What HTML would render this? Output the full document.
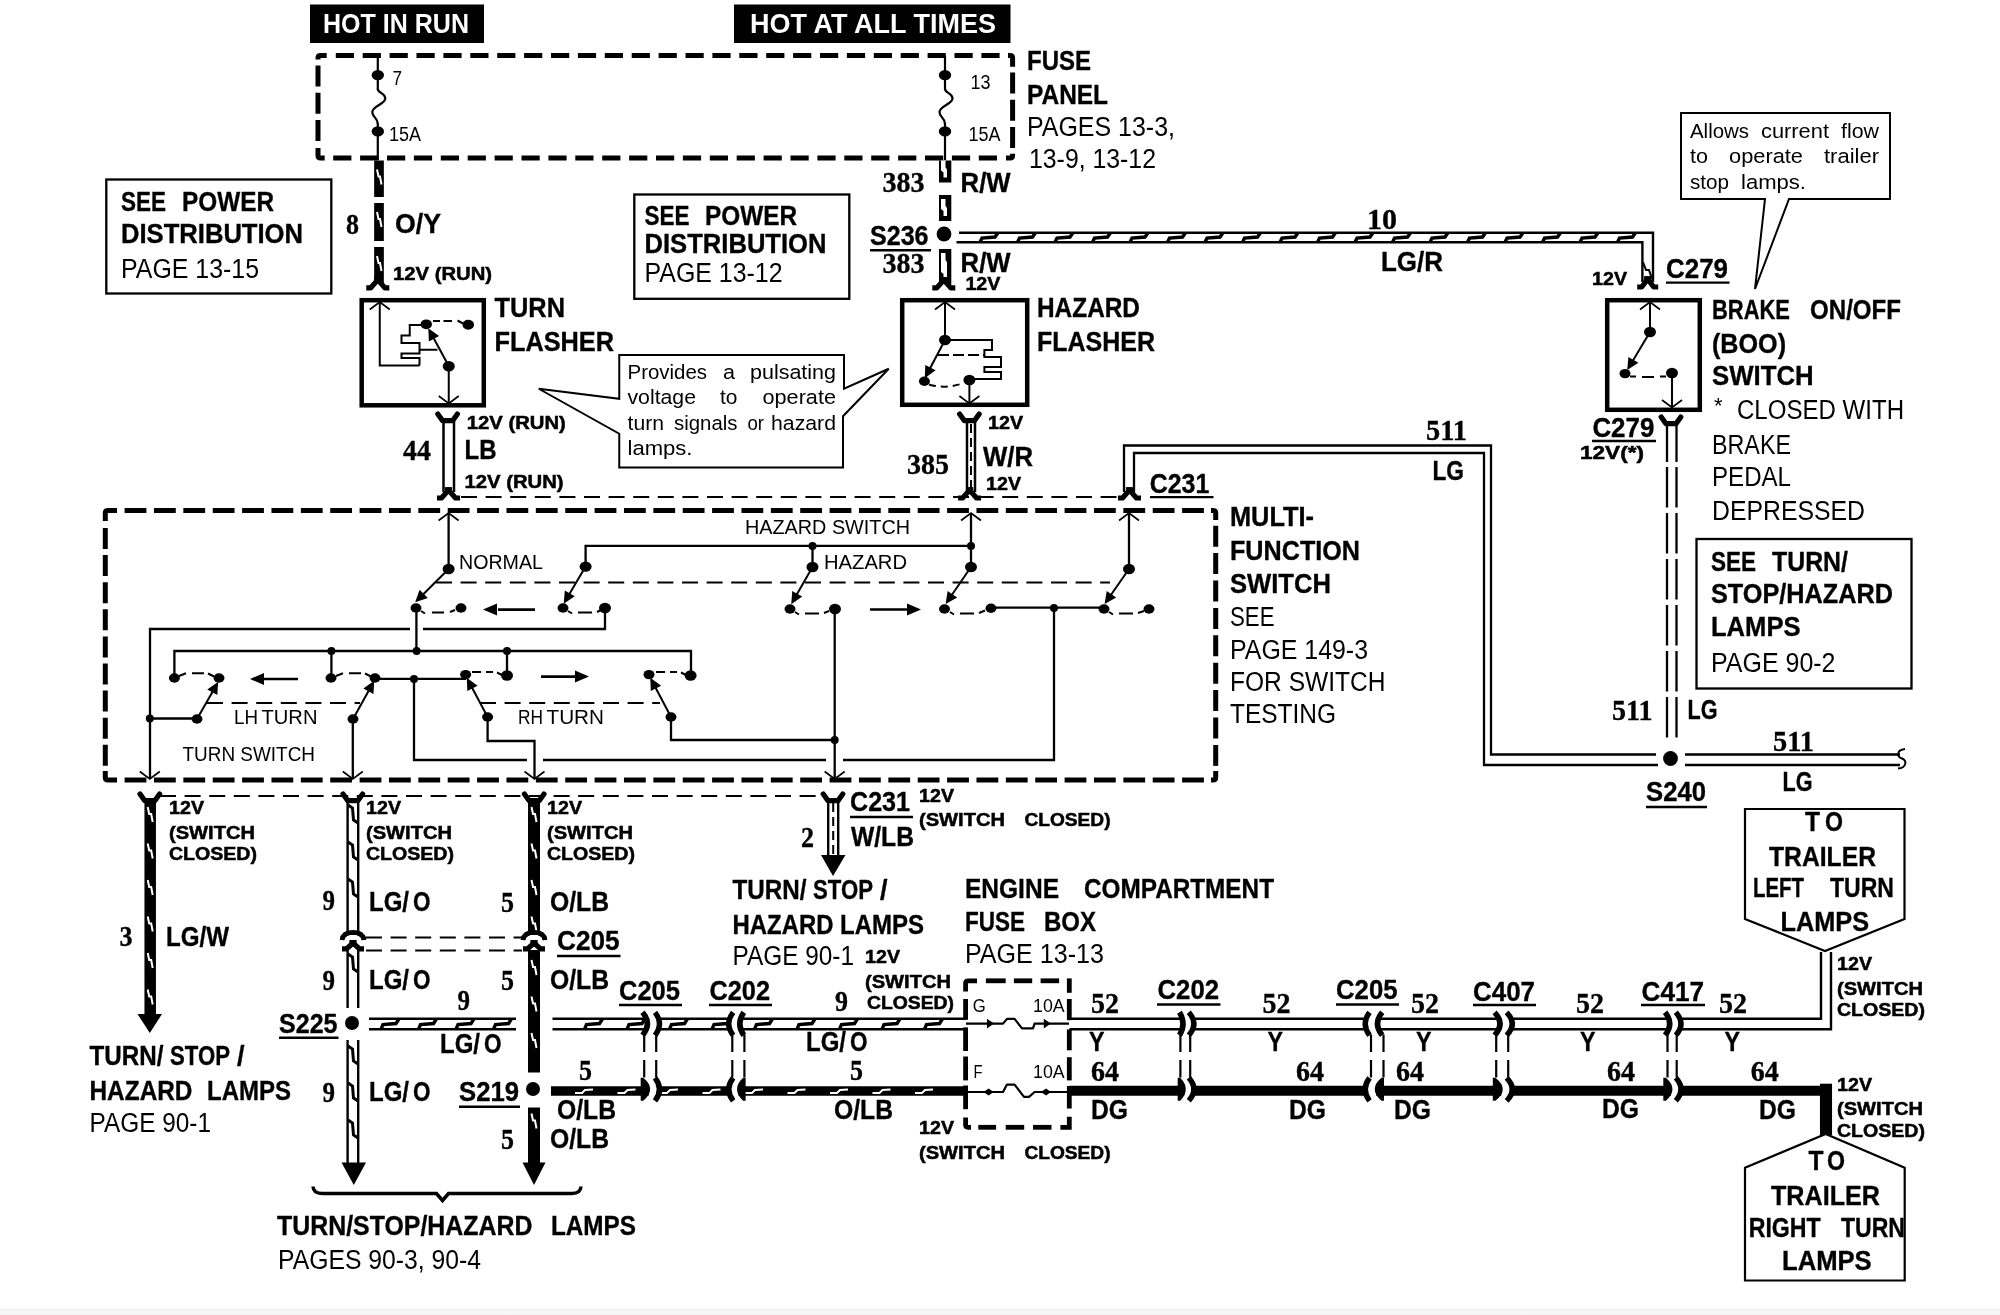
<!DOCTYPE html>
<html><head><meta charset="utf-8"><title>Turn / Stop / Hazard Lamps wiring diagram</title>
<style>
html,body{margin:0;padding:0;background:#fff;}
svg{display:block;}
text{font-family:'Liberation Sans', sans-serif;fill:#000;stroke:none;}
text.sf{font-family:'Liberation Serif', serif;}
</style></head><body>
<svg width="2000" height="1315" viewBox="0 0 2000 1315" stroke="#000" fill="none">
<rect x="0" y="0" width="2000" height="1315" fill="#fff" stroke="none"/>
<defs><linearGradient id="bg" x1="0" y1="0" x2="0" y2="1"><stop offset="0" stop-color="#fff"/><stop offset="0.3" stop-color="#f0f0f0"/><stop offset="0.7" stop-color="#f9f9f9"/><stop offset="1" stop-color="#f1f1f1"/></linearGradient></defs>
<rect x="0" y="1307.5" width="2000" height="7.5" fill="url(#bg)" stroke="none"/>
<filter id="soft" x="0" y="0" width="2000" height="1315" filterUnits="userSpaceOnUse"><feGaussianBlur stdDeviation="0.55"/></filter>
<g filter="url(#soft)">

<rect x="310" y="4.5" width="174" height="38.5" fill="#000" stroke="none"/>
<text x="323" y="33" font-size="27" font-weight="bold" textLength="146" lengthAdjust="spacingAndGlyphs" style="fill:#fff;">HOT IN RUN</text>
<rect x="734" y="4.5" width="276.5" height="38.5" fill="#000" stroke="none"/>
<text x="750" y="33" font-size="27" font-weight="bold" textLength="246" lengthAdjust="spacingAndGlyphs" style="fill:#fff;">HOT AT ALL TIMES</text>
<path d="M318,59.5 V58 Q318,55.6 320.5,55.6 H326.7" stroke-width="5" fill="none"/>
<line x1="335.8" y1="55.6" x2="1002" y2="55.6" stroke-width="5" stroke-dasharray="18.2 8.7"/>
<path d="M1008,55.6 H1010 Q1012.6,55.6 1012.6,58 V66.7" stroke-width="5" fill="none"/>
<line x1="318" y1="65.4" x2="318" y2="142" stroke-width="5" stroke-dasharray="21 6.3"/>
<line x1="1012.6" y1="72.5" x2="1012.6" y2="149" stroke-width="5" stroke-dasharray="21 6.3"/>
<path d="M318,148 V155.6 Q318,158.1 320.5,158.1 H324.7" stroke-width="5" fill="none"/>
<line x1="333.2" y1="158.1" x2="1002" y2="158.1" stroke-width="5" stroke-dasharray="18.2 8.7"/>
<path d="M1006,158.1 H1010 Q1012.6,158.1 1012.6,155.6 V153.8" stroke-width="5" fill="none"/>
<line x1="377.8" y1="56" x2="377.8" y2="90" stroke-width="2.2"/>
<line x1="377.8" y1="123" x2="377.8" y2="160" stroke-width="2.2"/>
<path d="M377.8,89 C377.8,93 385.3,93 385.3,98.5 C385.3,104 372.3,106 372.3,112 C372.3,118 377.8,117 377.8,124" stroke-width="2.2" fill="none"/>
<ellipse cx="377.8" cy="75.1" rx="6.2" ry="5.2" fill="#000" stroke="none"/>
<ellipse cx="377.8" cy="131.4" rx="6.2" ry="5.2" fill="#000" stroke="none"/>
<text x="392.5" y="84.9" font-size="20" textLength="9.5" lengthAdjust="spacingAndGlyphs">7</text>
<text x="389" y="140.8" font-size="20" textLength="32" lengthAdjust="spacingAndGlyphs">15A</text>
<line x1="945" y1="56" x2="945" y2="90" stroke-width="2.2"/>
<line x1="945" y1="123" x2="945" y2="160" stroke-width="2.2"/>
<path d="M945,89 C945,93 952.5,93 952.5,98.5 C952.5,104 939.5,106 939.5,112 C939.5,118 945,117 945,124" stroke-width="2.2" fill="none"/>
<ellipse cx="945" cy="75.1" rx="6.2" ry="5.2" fill="#000" stroke="none"/>
<ellipse cx="945" cy="131.4" rx="6.2" ry="5.2" fill="#000" stroke="none"/>
<text x="970.4" y="89.4" font-size="20" textLength="20" lengthAdjust="spacingAndGlyphs">13</text>
<text x="968.4" y="140.8" font-size="20" textLength="32" lengthAdjust="spacingAndGlyphs">15A</text>
<text x="1027" y="69.5" font-size="27" font-weight="bold" textLength="64" lengthAdjust="spacingAndGlyphs" style="stroke:#000;stroke-width:0.35;">FUSE</text>
<text x="1027" y="104" font-size="27" font-weight="bold" textLength="81" lengthAdjust="spacingAndGlyphs" style="stroke:#000;stroke-width:0.35;">PANEL</text>
<text x="1027" y="136" font-size="27" textLength="148" lengthAdjust="spacingAndGlyphs">PAGES 13-3,</text>
<text x="1029" y="167.5" font-size="27" textLength="127" lengthAdjust="spacingAndGlyphs">13-9, 13-12</text>
<line x1="379" y1="160.5" x2="379" y2="197" stroke-width="9.7"/>
<path d="M377,169.5 L378.5,176.5 L380,176.5 L381.5,184.5" stroke-width="2" fill="none" stroke="#fff"/>
<line x1="379" y1="203" x2="379" y2="241" stroke-width="9.7"/>
<path d="M377,212 L378.5,219 L380,219 L381.5,227" stroke-width="2" fill="none" stroke="#fff"/>
<line x1="379" y1="247" x2="379" y2="283" stroke-width="9.7"/>
<path d="M377,256 L378.5,263 L380,263 L381.5,271" stroke-width="2" fill="none" stroke="#fff"/>
<path d="M366.3,287.79999999999995 L370.8,287.79999999999995 L377.8,279.9 L384.8,287.79999999999995 L389.3,287.79999999999995" stroke-width="5.2" fill="none" stroke-linejoin="round"/>
<path d="M377.8,276.9 V281.9" stroke-width="7.2" fill="none"/>
<text x="346" y="233.8" font-size="28.5" font-weight="bold" class="sf" textLength="13" lengthAdjust="spacingAndGlyphs" style="stroke:#000;stroke-width:0.35;">8</text>
<text x="395" y="232.5" font-size="27" font-weight="bold" textLength="46" lengthAdjust="spacingAndGlyphs" style="stroke:#000;stroke-width:0.35;">O/Y</text>
<text x="393" y="280" font-size="18" font-weight="bold" textLength="99" lengthAdjust="spacingAndGlyphs" style="stroke:#000;stroke-width:0.5;">12V (RUN)</text>
<rect x="106.3" y="179.5" width="225.0" height="114.0" stroke-width="2.3" fill="none"/>
<text x="121" y="211" font-size="27" font-weight="bold" textLength="45" lengthAdjust="spacingAndGlyphs" style="stroke:#000;stroke-width:0.35;">SEE</text>
<text x="182" y="211" font-size="27" font-weight="bold" textLength="92" lengthAdjust="spacingAndGlyphs" style="stroke:#000;stroke-width:0.35;">POWER</text>
<text x="121" y="243" font-size="27" font-weight="bold" textLength="182" lengthAdjust="spacingAndGlyphs" style="stroke:#000;stroke-width:0.35;">DISTRIBUTION</text>
<text x="121" y="277.5" font-size="27" textLength="138" lengthAdjust="spacingAndGlyphs">PAGE 13-15</text>
<rect x="361.7" y="300.2" width="122.10000000000002" height="105.10000000000002" stroke-width="4.5" fill="none"/>
<path d="M379.75,302 V365.5 H419.5" stroke-width="2" fill="none"/>
<path d="M369.75,309.5 L379.75,302 L389.75,309.5" stroke-width="1.7" fill="none"/>
<path d="M424,325 H409.75 V335.5 H401.5 V343 H419.5 V353.5 H401.5 V358 H419.5 V365.5" stroke-width="2" fill="none"/>
<line x1="419.5" y1="349.75" x2="437.5" y2="349.75" stroke-width="2"/>
<line x1="448.75" y1="366" x2="429.5" y2="330.5" stroke-width="2.0"/>
<polygon points="428.3,328.3 439.1,336.1 428.9,341.6" fill="#000" stroke="none"/>
<ellipse cx="426.25" cy="324.3" rx="5.7" ry="4.9" fill="#000" stroke="none"/>
<ellipse cx="468.25" cy="324.7" rx="5.8" ry="5.0" fill="#000" stroke="none"/>
<ellipse cx="448.75" cy="366.2" rx="6.0" ry="5.2" fill="#000" stroke="none"/>
<path d="M433,321 H440 M443.5,321 H452 M457.5,320.5 L463,323.5" stroke-width="2" fill="none"/>
<line x1="448.75" y1="366" x2="448.75" y2="403" stroke-width="2"/>
<path d="M438.75,396.0 L448.75,403.5 L458.75,396.0" stroke-width="1.7" fill="none"/>
<text x="494.5" y="316.75" font-size="27" font-weight="bold" textLength="70.5" lengthAdjust="spacingAndGlyphs" style="stroke:#000;stroke-width:0.35;">TURN</text>
<text x="494.5" y="351.25" font-size="27" font-weight="bold" textLength="119.5" lengthAdjust="spacingAndGlyphs" style="stroke:#000;stroke-width:0.35;">FLASHER</text>
<path d="M437.8,414.0 L442.6,420.7 L452.6,420.7 L457.40000000000003,414.0" stroke-width="5.2" fill="none" stroke-linejoin="round" stroke-linecap="round"/>
<line x1="443.5" y1="419" x2="443.5" y2="492" stroke-width="2.5"/>
<line x1="454" y1="419" x2="454" y2="492" stroke-width="2.5"/>
<path d="M437.0,498.0 L441.5,498.0 L448.5,490.1 L455.5,498.0 L460.0,498.0" stroke-width="5.2" fill="none" stroke-linejoin="round"/>
<path d="M448.5,487.1 V492.1" stroke-width="7.2" fill="none"/>
<text x="466.75" y="429.25" font-size="18" font-weight="bold" textLength="99" lengthAdjust="spacingAndGlyphs" style="stroke:#000;stroke-width:0.5;">12V (RUN)</text>
<text x="403" y="459.8" font-size="28.5" font-weight="bold" class="sf" textLength="27.75" lengthAdjust="spacingAndGlyphs" style="stroke:#000;stroke-width:0.35;">44</text>
<text x="464.5" y="458.5" font-size="27" font-weight="bold" textLength="32" lengthAdjust="spacingAndGlyphs" style="stroke:#000;stroke-width:0.35;">LB</text>
<text x="464.5" y="487.8" font-size="18" font-weight="bold" textLength="99" lengthAdjust="spacingAndGlyphs" style="stroke:#000;stroke-width:0.5;">12V (RUN)</text>
<path d="M619.25,355 H844 V388.75 L888.75,368.75 L843,416.25 V467.5 H619.25 V433.75 L538.75,388.75 L619.25,398.75 Z" stroke-width="2" fill="none" stroke-linejoin="miter"/>
<text x="627.5" y="378.75" font-size="20.5" textLength="79.5" lengthAdjust="spacingAndGlyphs">Provides</text>
<text x="723" y="378.75" font-size="20.5" textLength="12" lengthAdjust="spacingAndGlyphs">a</text>
<text x="750" y="378.75" font-size="20.5" textLength="86" lengthAdjust="spacingAndGlyphs">pulsating</text>
<text x="627.5" y="403.75" font-size="20.5" textLength="68.5" lengthAdjust="spacingAndGlyphs">voltage</text>
<text x="720" y="403.75" font-size="20.5" textLength="17.5" lengthAdjust="spacingAndGlyphs">to</text>
<text x="762.5" y="403.75" font-size="20.5" textLength="73.5" lengthAdjust="spacingAndGlyphs">operate</text>
<text x="627.5" y="430" font-size="20.5" textLength="36.5" lengthAdjust="spacingAndGlyphs">turn</text>
<text x="674" y="430" font-size="20.5" textLength="63.5" lengthAdjust="spacingAndGlyphs">signals</text>
<text x="747.5" y="430" font-size="20.5" textLength="16.5" lengthAdjust="spacingAndGlyphs">or</text>
<text x="771" y="430" font-size="20.5" textLength="65" lengthAdjust="spacingAndGlyphs">hazard</text>
<text x="627.5" y="455" font-size="20.5" textLength="65" lengthAdjust="spacingAndGlyphs">lamps.</text>
<rect x="939" y="160.5" width="12.3" height="22.0" fill="#000" stroke="none"/>
<polygon points="941,160.5 945.5,160.5 945.5,167.5 947,169.5 947,177.5 943.5,177.5 943.5,172.5 941,170.5" fill="#fff" stroke="none"/>
<rect x="939" y="195" width="12.3" height="26" fill="#000" stroke="none"/>
<polygon points="941,199 945.5,199 945.5,206 947,208 947,216 943.5,216 943.5,211 941,209" fill="#fff" stroke="none"/>
<rect x="939" y="249" width="12.3" height="35" fill="#000" stroke="none"/>
<polygon points="941,253 945.5,253 945.5,260 947,262 947,279 943.5,279 943.5,274 941,272" fill="#fff" stroke="none"/>
<path d="M932.3,287.9 L936.8,287.9 L943.8,280.0 L950.8,287.9 L955.3,287.9" stroke-width="5.2" fill="none" stroke-linejoin="round"/>
<path d="M943.8,277.0 V282.0" stroke-width="7.2" fill="none"/>
<circle cx="944" cy="234" r="7.4" fill="#000" stroke="none"/>
<text x="882.4" y="192.3" font-size="28.5" font-weight="bold" class="sf" textLength="42" lengthAdjust="spacingAndGlyphs" style="stroke:#000;stroke-width:0.35;">383</text>
<text x="960.6" y="192" font-size="27" font-weight="bold" textLength="50" lengthAdjust="spacingAndGlyphs" style="stroke:#000;stroke-width:0.35;">R/W</text>
<text x="870" y="245.2" font-size="27" font-weight="bold" textLength="58.5" lengthAdjust="spacingAndGlyphs" style="stroke:#000;stroke-width:0.35;">S236</text>
<line x1="870" y1="250.3" x2="931" y2="250.3" stroke-width="2.4"/>
<text x="882.4" y="273.1" font-size="28.5" font-weight="bold" class="sf" textLength="42" lengthAdjust="spacingAndGlyphs" style="stroke:#000;stroke-width:0.35;">383</text>
<text x="960.6" y="272.4" font-size="27" font-weight="bold" textLength="50" lengthAdjust="spacingAndGlyphs" style="stroke:#000;stroke-width:0.35;">R/W</text>
<text x="965.4" y="290" font-size="18" font-weight="bold" textLength="35" lengthAdjust="spacingAndGlyphs" style="stroke:#000;stroke-width:0.5;">12V</text>
<rect x="634.3" y="194.5" width="215.0" height="104.30000000000001" stroke-width="2.3" fill="none"/>
<text x="644.5" y="225" font-size="27" font-weight="bold" textLength="45" lengthAdjust="spacingAndGlyphs" style="stroke:#000;stroke-width:0.35;">SEE</text>
<text x="705" y="225" font-size="27" font-weight="bold" textLength="92" lengthAdjust="spacingAndGlyphs" style="stroke:#000;stroke-width:0.35;">POWER</text>
<text x="644.5" y="252.5" font-size="27" font-weight="bold" textLength="182" lengthAdjust="spacingAndGlyphs" style="stroke:#000;stroke-width:0.35;">DISTRIBUTION</text>
<text x="644.5" y="282" font-size="27" textLength="138" lengthAdjust="spacingAndGlyphs">PAGE 13-12</text>
<path d="M959,232.7 H1653 V282" stroke-width="2.4" fill="none"/>
<path d="M956.5,242.3 H1642.4 V282" stroke-width="2.4" fill="none"/>
<path d="M980,242.3 L982,238.0 L995,237.0 L998,232.7" stroke-width="3.4" fill="none"/>
<path d="M1017.5,242.3 L1019.5,238.0 L1032.5,237.0 L1035.5,232.7" stroke-width="3.4" fill="none"/>
<path d="M1055.0,242.3 L1057.0,238.0 L1070.0,237.0 L1073.0,232.7" stroke-width="3.4" fill="none"/>
<path d="M1092.5,242.3 L1094.5,238.0 L1107.5,237.0 L1110.5,232.7" stroke-width="3.4" fill="none"/>
<path d="M1130.0,242.3 L1132.0,238.0 L1145.0,237.0 L1148.0,232.7" stroke-width="3.4" fill="none"/>
<path d="M1167.5,242.3 L1169.5,238.0 L1182.5,237.0 L1185.5,232.7" stroke-width="3.4" fill="none"/>
<path d="M1205.0,242.3 L1207.0,238.0 L1220.0,237.0 L1223.0,232.7" stroke-width="3.4" fill="none"/>
<path d="M1242.5,242.3 L1244.5,238.0 L1257.5,237.0 L1260.5,232.7" stroke-width="3.4" fill="none"/>
<path d="M1280.0,242.3 L1282.0,238.0 L1295.0,237.0 L1298.0,232.7" stroke-width="3.4" fill="none"/>
<path d="M1317.5,242.3 L1319.5,238.0 L1332.5,237.0 L1335.5,232.7" stroke-width="3.4" fill="none"/>
<path d="M1355.0,242.3 L1357.0,238.0 L1370.0,237.0 L1373.0,232.7" stroke-width="3.4" fill="none"/>
<path d="M1392.5,242.3 L1394.5,238.0 L1407.5,237.0 L1410.5,232.7" stroke-width="3.4" fill="none"/>
<path d="M1430.0,242.3 L1432.0,238.0 L1445.0,237.0 L1448.0,232.7" stroke-width="3.4" fill="none"/>
<path d="M1467.5,242.3 L1469.5,238.0 L1482.5,237.0 L1485.5,232.7" stroke-width="3.4" fill="none"/>
<path d="M1505.0,242.3 L1507.0,238.0 L1520.0,237.0 L1523.0,232.7" stroke-width="3.4" fill="none"/>
<path d="M1542.5,242.3 L1544.5,238.0 L1557.5,237.0 L1560.5,232.7" stroke-width="3.4" fill="none"/>
<path d="M1580.0,242.3 L1582.0,238.0 L1595.0,237.0 L1598.0,232.7" stroke-width="3.4" fill="none"/>
<path d="M1617.5,242.3 L1619.5,238.0 L1632.5,237.0 L1635.5,232.7" stroke-width="3.4" fill="none"/>
<path d="M1643,262 L1646,270 L1649,270 L1652,279" stroke-width="2" fill="none"/>
<path d="M1637.2,287.0 L1641.7,287.0 L1647.7,279.1 L1653.7,287.0 L1658.2,287.0" stroke-width="5.2" fill="none" stroke-linejoin="round"/>
<path d="M1647.7,276.1 V281.1" stroke-width="7.2" fill="none"/>
<text x="1367" y="229.3" font-size="28.5" font-weight="bold" class="sf" textLength="30" lengthAdjust="spacingAndGlyphs" style="stroke:#000;stroke-width:0.35;">10</text>
<text x="1381" y="271" font-size="27" font-weight="bold" textLength="62" lengthAdjust="spacingAndGlyphs" style="stroke:#000;stroke-width:0.35;">LG/R</text>
<text x="1592" y="285" font-size="18" font-weight="bold" textLength="35" lengthAdjust="spacingAndGlyphs" style="stroke:#000;stroke-width:0.5;">12V</text>
<text x="1666" y="278" font-size="27" font-weight="bold" textLength="62" lengthAdjust="spacingAndGlyphs" style="stroke:#000;stroke-width:0.35;">C279</text>
<line x1="1666" y1="282.6" x2="1729.5" y2="282.6" stroke-width="2.4"/>
<path d="M1681,113 H1890 V199 H1789 L1755,289 L1765,199 H1681 Z" stroke-width="2" fill="none" stroke-linejoin="miter"/>
<text x="1690" y="138" font-size="20.5" textLength="59" lengthAdjust="spacingAndGlyphs">Allows</text>
<text x="1761" y="138" font-size="20.5" textLength="68" lengthAdjust="spacingAndGlyphs">current</text>
<text x="1841" y="138" font-size="20.5" textLength="38" lengthAdjust="spacingAndGlyphs">flow</text>
<text x="1690" y="163" font-size="20.5" textLength="18" lengthAdjust="spacingAndGlyphs">to</text>
<text x="1729" y="163" font-size="20.5" textLength="74" lengthAdjust="spacingAndGlyphs">operate</text>
<text x="1824" y="163" font-size="20.5" textLength="55" lengthAdjust="spacingAndGlyphs">trailer</text>
<text x="1690" y="189" font-size="20.5" textLength="39" lengthAdjust="spacingAndGlyphs">stop</text>
<text x="1741" y="189" font-size="20.5" textLength="65" lengthAdjust="spacingAndGlyphs">lamps.</text>
<rect x="902.2" y="300.2" width="125.0" height="104.60000000000002" stroke-width="4.5" fill="none"/>
<line x1="945" y1="302" x2="945" y2="340" stroke-width="2"/>
<path d="M935,309.5 L945,302 L955,309.5" stroke-width="1.7" fill="none"/>
<path d="M945,340 H992 V350 H984.4 V357 H1001 V367 H984.4 V372 H1001 V379 H969.4" stroke-width="2" fill="none"/>
<line x1="945" y1="340" x2="926" y2="376" stroke-width="2.0"/>
<polygon points="924.8,378.2 925.3,364.9 935.6,370.3" fill="#000" stroke="none"/>
<line x1="938" y1="355" x2="984" y2="355" stroke-width="2" stroke-dasharray="11 4"/>
<ellipse cx="945" cy="340" rx="6.0" ry="5.2" fill="#000" stroke="none"/>
<ellipse cx="969.4" cy="380" rx="6.0" ry="5.2" fill="#000" stroke="none"/>
<ellipse cx="924.4" cy="381.2" rx="5.5" ry="4.7" fill="#000" stroke="none"/>
<path d="M929,384.5 Q945,389.5 964,383" stroke-width="2" fill="none" stroke-dasharray="7 5"/>
<line x1="969.4" y1="380" x2="969.4" y2="403" stroke-width="2"/>
<path d="M959.4,396.0 L969.4,403.5 L979.4,396.0" stroke-width="1.7" fill="none"/>
<text x="1037" y="317" font-size="27" font-weight="bold" textLength="103" lengthAdjust="spacingAndGlyphs" style="stroke:#000;stroke-width:0.35;">HAZARD</text>
<text x="1037" y="351" font-size="27" font-weight="bold" textLength="118" lengthAdjust="spacingAndGlyphs" style="stroke:#000;stroke-width:0.35;">FLASHER</text>
<path d="M959.6,414.0 L964.4,420.7 L974.4,420.7 L979.1999999999999,414.0" stroke-width="5.2" fill="none" stroke-linejoin="round" stroke-linecap="round"/>
<line x1="967" y1="419" x2="967" y2="492" stroke-width="2.5"/>
<line x1="975" y1="419" x2="975" y2="492" stroke-width="2.5"/>
<line x1="971" y1="424" x2="971" y2="490" stroke-width="2" stroke-dasharray="9 5"/>
<path d="M958.1,498.0 L962.6,498.0 L969.6,490.1 L976.6,498.0 L981.1,498.0" stroke-width="5.2" fill="none" stroke-linejoin="round"/>
<path d="M969.6,487.1 V492.1" stroke-width="7.2" fill="none"/>
<text x="988" y="429" font-size="18" font-weight="bold" textLength="35" lengthAdjust="spacingAndGlyphs" style="stroke:#000;stroke-width:0.5;">12V</text>
<text x="907" y="474.3" font-size="28.5" font-weight="bold" class="sf" textLength="42" lengthAdjust="spacingAndGlyphs" style="stroke:#000;stroke-width:0.35;">385</text>
<text x="983" y="466" font-size="27" font-weight="bold" textLength="50" lengthAdjust="spacingAndGlyphs" style="stroke:#000;stroke-width:0.35;">W/R</text>
<text x="986" y="490" font-size="18" font-weight="bold" textLength="35" lengthAdjust="spacingAndGlyphs" style="stroke:#000;stroke-width:0.5;">12V</text>
<rect x="1607.2" y="300.2" width="92.59999999999991" height="109.60000000000002" stroke-width="4.5" fill="none"/>
<line x1="1650" y1="302" x2="1650" y2="332" stroke-width="2"/>
<path d="M1640,309.5 L1650,302 L1660,309.5" stroke-width="1.7" fill="none"/>
<line x1="1650" y1="332" x2="1628.5" y2="368" stroke-width="2.0"/>
<polygon points="1627.2,370.1 1628.4,356.9 1638.4,362.8" fill="#000" stroke="none"/>
<ellipse cx="1650" cy="332" rx="6.0" ry="5.2" fill="#000" stroke="none"/>
<ellipse cx="1625" cy="373.6" rx="5.5" ry="4.7" fill="#000" stroke="none"/>
<ellipse cx="1672" cy="373" rx="6.0" ry="5.2" fill="#000" stroke="none"/>
<path d="M1630,376.5 H1636 M1642,377 H1654 M1660,376.5 H1666" stroke-width="2" fill="none"/>
<line x1="1672" y1="373" x2="1672" y2="407" stroke-width="2"/>
<path d="M1662,400.0 L1672,407.5 L1682,400.0" stroke-width="1.7" fill="none"/>
<path d="M1661.2,417.0 L1666,423.7 L1676,423.7 L1680.8,417.0" stroke-width="5.2" fill="none" stroke-linejoin="round" stroke-linecap="round"/>
<text x="1712" y="319" font-size="27" font-weight="bold" textLength="78" lengthAdjust="spacingAndGlyphs" style="stroke:#000;stroke-width:0.35;">BRAKE</text>
<text x="1810" y="319" font-size="27" font-weight="bold" textLength="91" lengthAdjust="spacingAndGlyphs" style="stroke:#000;stroke-width:0.35;">ON/OFF</text>
<text x="1712" y="353" font-size="27" font-weight="bold" textLength="74" lengthAdjust="spacingAndGlyphs" style="stroke:#000;stroke-width:0.35;">(BOO)</text>
<text x="1712" y="385" font-size="27" font-weight="bold" textLength="101.6" lengthAdjust="spacingAndGlyphs" style="stroke:#000;stroke-width:0.35;">SWITCH</text>
<text x="1714" y="413" font-size="22">*</text>
<text x="1737" y="419" font-size="27" textLength="167" lengthAdjust="spacingAndGlyphs">CLOSED WITH</text>
<text x="1712" y="453.6" font-size="27" textLength="79" lengthAdjust="spacingAndGlyphs">BRAKE</text>
<text x="1712" y="485.6" font-size="27" textLength="79" lengthAdjust="spacingAndGlyphs">PEDAL</text>
<text x="1712" y="519.6" font-size="27" textLength="153" lengthAdjust="spacingAndGlyphs">DEPRESSED</text>
<text x="1592.4" y="436.8" font-size="27" font-weight="bold" textLength="62" lengthAdjust="spacingAndGlyphs" style="stroke:#000;stroke-width:0.35;">C279</text>
<line x1="1592" y1="441" x2="1656" y2="441" stroke-width="2.4"/>
<text x="1580" y="459" font-size="18" font-weight="bold" textLength="64" lengthAdjust="spacingAndGlyphs" style="stroke:#000;stroke-width:0.5;">12V(*)</text>
<line x1="1667" y1="422" x2="1667" y2="462" stroke-width="2.3"/>
<line x1="1667" y1="467" x2="1667" y2="741" stroke-width="2.3" stroke-dasharray="40.5 5.5"/>
<line x1="1676.5" y1="422" x2="1676.5" y2="462" stroke-width="2.3"/>
<line x1="1676.5" y1="467" x2="1676.5" y2="741" stroke-width="2.3" stroke-dasharray="40.5 5.5"/>
<rect x="1696.5" y="539" width="215.0" height="149.5" stroke-width="2.3" fill="none"/>
<text x="1711" y="570.5" font-size="27" font-weight="bold" textLength="45" lengthAdjust="spacingAndGlyphs" style="stroke:#000;stroke-width:0.35;">SEE</text>
<text x="1772" y="570.5" font-size="27" font-weight="bold" textLength="76" lengthAdjust="spacingAndGlyphs" style="stroke:#000;stroke-width:0.35;">TURN/</text>
<text x="1711" y="603" font-size="27" font-weight="bold" textLength="182" lengthAdjust="spacingAndGlyphs" style="stroke:#000;stroke-width:0.35;">STOP/HAZARD</text>
<text x="1711" y="636" font-size="27" font-weight="bold" textLength="89.5" lengthAdjust="spacingAndGlyphs" style="stroke:#000;stroke-width:0.35;">LAMPS</text>
<text x="1711" y="672" font-size="27" textLength="124.5" lengthAdjust="spacingAndGlyphs">PAGE 90-2</text>
<path d="M1124,492 V445.5 H1491 V754.5 H1656" stroke-width="2.3" fill="none"/>
<path d="M1134,492 V453 H1484 V765 H1658" stroke-width="2.3" fill="none"/>
<path d="M1118.0,498.0 L1122.5,498.0 L1129.5,490.1 L1136.5,498.0 L1141.0,498.0" stroke-width="5.2" fill="none" stroke-linejoin="round"/>
<path d="M1129.5,487.1 V492.1" stroke-width="7.2" fill="none"/>
<text x="1149.75" y="493.3" font-size="27" font-weight="bold" textLength="59.5" lengthAdjust="spacingAndGlyphs" style="stroke:#000;stroke-width:0.35;">C231</text>
<line x1="1150" y1="497.1" x2="1213.5" y2="497.1" stroke-width="2.4"/>
<text x="1426" y="440.3" font-size="28.5" font-weight="bold" class="sf" textLength="41" lengthAdjust="spacingAndGlyphs" style="stroke:#000;stroke-width:0.35;">511</text>
<text x="1432.5" y="480" font-size="27" font-weight="bold" textLength="31.5" lengthAdjust="spacingAndGlyphs" style="stroke:#000;stroke-width:0.35;">LG</text>
<circle cx="1670.5" cy="758.5" r="7.4" fill="#000" stroke="none"/>
<line x1="1685" y1="754.5" x2="1900" y2="754.5" stroke-width="2.3"/>
<line x1="1685" y1="765" x2="1900" y2="765" stroke-width="2.3"/>
<path d="M1905,749 C1896,750 1897,757 1902,758.5 C1907,760 1907,768 1898,768.5" stroke-width="2" fill="none"/>
<text x="1612" y="720.3" font-size="28.5" font-weight="bold" class="sf" textLength="40.5" lengthAdjust="spacingAndGlyphs" style="stroke:#000;stroke-width:0.35;">511</text>
<text x="1687.5" y="719" font-size="27" font-weight="bold" textLength="30" lengthAdjust="spacingAndGlyphs" style="stroke:#000;stroke-width:0.35;">LG</text>
<text x="1773" y="751.3" font-size="28.5" font-weight="bold" class="sf" textLength="41" lengthAdjust="spacingAndGlyphs" style="stroke:#000;stroke-width:0.35;">511</text>
<text x="1782.5" y="791" font-size="27" font-weight="bold" textLength="30" lengthAdjust="spacingAndGlyphs" style="stroke:#000;stroke-width:0.35;">LG</text>
<text x="1646" y="801" font-size="27" font-weight="bold" textLength="60" lengthAdjust="spacingAndGlyphs" style="stroke:#000;stroke-width:0.35;">S240</text>
<line x1="1646" y1="807" x2="1707" y2="807" stroke-width="2.4"/>
<line x1="461" y1="497" x2="1118" y2="497" stroke-width="2" stroke-dasharray="16 8.6"/>
<line x1="160" y1="796" x2="822" y2="796" stroke-width="2" stroke-dasharray="16 8.6"/>
<path d="M105.3,521 V513 Q105.3,510.5 108,510.5 H117" stroke-width="5" fill="none"/>
<line x1="124.6" y1="510.5" x2="1205" y2="510.5" stroke-width="5" stroke-dasharray="21.8 7.575"/>
<path d="M1211,510.5 H1213 Q1215.7,510.5 1215.7,513 V520" stroke-width="5" fill="none"/>
<line x1="105.3" y1="528" x2="105.3" y2="772" stroke-width="5" stroke-dasharray="21 6.1"/>
<line x1="1215.7" y1="525.7" x2="1215.7" y2="772" stroke-width="5" stroke-dasharray="21 6.4"/>
<path d="M105.3,771 V777.5 Q105.3,780 108,780 H117" stroke-width="5" fill="none"/>
<line x1="124.6" y1="780" x2="1205" y2="780" stroke-width="5" stroke-dasharray="21.8 7.575"/>
<path d="M1211,780 H1213 Q1215.7,780 1215.7,777.5 V771" stroke-width="5" fill="none"/>
<text x="1230" y="526" font-size="27" font-weight="bold" textLength="84" lengthAdjust="spacingAndGlyphs" style="stroke:#000;stroke-width:0.35;">MULTI-</text>
<text x="1230" y="560" font-size="27" font-weight="bold" textLength="130" lengthAdjust="spacingAndGlyphs" style="stroke:#000;stroke-width:0.35;">FUNCTION</text>
<text x="1230" y="592.5" font-size="27" font-weight="bold" textLength="101" lengthAdjust="spacingAndGlyphs" style="stroke:#000;stroke-width:0.35;">SWITCH</text>
<text x="1230" y="626" font-size="27" textLength="44.5" lengthAdjust="spacingAndGlyphs">SEE</text>
<text x="1230" y="659" font-size="27" textLength="138" lengthAdjust="spacingAndGlyphs">PAGE 149-3</text>
<text x="1230" y="691" font-size="27" textLength="155.5" lengthAdjust="spacingAndGlyphs">FOR SWITCH</text>
<text x="1230" y="722.5" font-size="27" textLength="106" lengthAdjust="spacingAndGlyphs">TESTING</text>
<text x="745" y="534" font-size="19.5" textLength="165" lengthAdjust="spacingAndGlyphs">HAZARD SWITCH</text>
<text x="824" y="569" font-size="19.5" textLength="83" lengthAdjust="spacingAndGlyphs">HAZARD</text>
<text x="459" y="569" font-size="19.5" textLength="84" lengthAdjust="spacingAndGlyphs">NORMAL</text>
<line x1="448.6" y1="513" x2="448.6" y2="569" stroke-width="2.3"/>
<path d="M438.6,520.5 L448.6,513 L458.6,520.5" stroke-width="1.7" fill="none"/>
<line x1="448.6" y1="569" x2="417" y2="600.5" stroke-width="2.0"/>
<polygon points="415.2,602.3 419.6,589.7 427.8,597.9" fill="#000" stroke="none"/>
<ellipse cx="448.6" cy="569" rx="6.0" ry="5.2" fill="#000" stroke="none"/>
<ellipse cx="416" cy="608" rx="5.5" ry="4.7" fill="#000" stroke="none"/>
<ellipse cx="461" cy="608" rx="5.5" ry="4.7" fill="#000" stroke="none"/>
<path d="M421,611 L425,613.5 M432,612.5 H444 M450,612 L455,610" stroke-width="2" fill="none"/>
<line x1="436" y1="582.6" x2="1110" y2="582.6" stroke-width="2" stroke-dasharray="16 8.6"/>
<line x1="498" y1="609.6" x2="535" y2="609.6" stroke-width="2.6"/>
<polygon points="483.0,609.6 497.0,603.6 497.0,615.6" fill="#000" stroke="none"/>
<path d="M585.6,566.6 V545.8 H971" stroke-width="2.3" fill="none"/>
<line x1="585.6" y1="566.6" x2="565" y2="601.5" stroke-width="2.0"/>
<polygon points="563.7,603.7 564.8,590.4 574.8,596.3" fill="#000" stroke="none"/>
<ellipse cx="585.6" cy="566.6" rx="6.0" ry="5.2" fill="#000" stroke="none"/>
<ellipse cx="563" cy="608" rx="5.5" ry="4.7" fill="#000" stroke="none"/>
<ellipse cx="605" cy="608" rx="6.0" ry="5.2" fill="#000" stroke="none"/>
<path d="M568,611 L572,613.5 M578,612.5 H592 M597,612 L601,610" stroke-width="2" fill="none"/>
<path d="M605,608 V629 H423" stroke-width="2.3" fill="none"/>
<path d="M410,629 H150 V778" stroke-width="2.3" fill="none"/>
<path d="M139.8,771.5 L149.8,779 L159.8,771.5" stroke-width="1.7" fill="none"/>
<line x1="416.4" y1="608" x2="416.4" y2="651" stroke-width="2.3"/>
<path d="M174.4,678 V651 H691 V675" stroke-width="2.3" fill="none"/>
<circle cx="331.4" cy="651" r="4.0" fill="#000" stroke="none"/>
<circle cx="416.6" cy="651" r="4.0" fill="#000" stroke="none"/>
<circle cx="507" cy="651" r="4.0" fill="#000" stroke="none"/>
<line x1="331.4" y1="651" x2="331.4" y2="678" stroke-width="2.3"/>
<line x1="507" y1="651" x2="507" y2="675" stroke-width="2.3"/>
<ellipse cx="174.4" cy="678" rx="5.5" ry="4.7" fill="#000" stroke="none"/>
<ellipse cx="219" cy="678" rx="5.5" ry="4.7" fill="#000" stroke="none"/>
<ellipse cx="331" cy="678" rx="5.5" ry="4.7" fill="#000" stroke="none"/>
<ellipse cx="375" cy="678" rx="5.5" ry="4.7" fill="#000" stroke="none"/>
<path d="M179,676 L186,673.3 M192,673.3 H204 M208,673.5 L214,676.5" stroke-width="2" fill="none"/>
<path d="M336,676 L343,673.3 M349,673.3 H361 M365,673.5 L371,676.5" stroke-width="2" fill="none"/>
<line x1="264" y1="679" x2="298" y2="679" stroke-width="2.6"/>
<polygon points="250.0,679.0 264.0,673.0 264.0,685.0" fill="#000" stroke="none"/>
<line x1="375" y1="678.8" x2="466" y2="678.8" stroke-width="2.3"/>
<circle cx="414" cy="679" r="4.0" fill="#000" stroke="none"/>
<line x1="197" y1="719" x2="217" y2="684" stroke-width="2.0"/>
<polygon points="218.2,681.8 217.3,695.1 207.3,689.4" fill="#000" stroke="none"/>
<ellipse cx="197" cy="719" rx="5.5" ry="4.7" fill="#000" stroke="none"/>
<circle cx="149.8" cy="718.5" r="4.0" fill="#000" stroke="none"/>
<line x1="149.8" y1="718.5" x2="197" y2="718.5" stroke-width="2.3"/>
<line x1="207" y1="703" x2="360" y2="703" stroke-width="2" stroke-dasharray="16 8.6"/>
<line x1="353" y1="719" x2="373" y2="683" stroke-width="2.0"/>
<polygon points="374.2,680.8 373.5,694.1 363.3,688.5" fill="#000" stroke="none"/>
<ellipse cx="353" cy="719" rx="5.5" ry="4.7" fill="#000" stroke="none"/>
<line x1="352.8" y1="719" x2="352.8" y2="778" stroke-width="2.3"/>
<path d="M342.8,771.5 L352.8,779 L362.8,771.5" stroke-width="1.7" fill="none"/>
<text x="234" y="724" font-size="19.5" textLength="24" lengthAdjust="spacingAndGlyphs">LH</text>
<text x="261.5" y="724" font-size="19.5" textLength="56" lengthAdjust="spacingAndGlyphs">TURN</text>
<text x="182.5" y="760.5" font-size="19.5" textLength="132.5" lengthAdjust="spacingAndGlyphs">TURN SWITCH</text>
<ellipse cx="465.6" cy="674.6" rx="5.5" ry="4.7" fill="#000" stroke="none"/>
<ellipse cx="507" cy="675.5" rx="6.0" ry="5.2" fill="#000" stroke="none"/>
<ellipse cx="649" cy="674.6" rx="5.5" ry="4.7" fill="#000" stroke="none"/>
<ellipse cx="690.6" cy="675.5" rx="6.0" ry="5.2" fill="#000" stroke="none"/>
<path d="M472,672 H493 M497,672.5 L502,675" stroke-width="2" fill="none" stroke-dasharray="9 5"/>
<path d="M656,672 H677 M681,672.5 L686,675" stroke-width="2" fill="none" stroke-dasharray="9 5"/>
<line x1="541" y1="676.6" x2="575" y2="676.6" stroke-width="2.6"/>
<polygon points="589.0,676.6 575.0,682.6 575.0,670.6" fill="#000" stroke="none"/>
<line x1="487.6" y1="717" x2="468" y2="680" stroke-width="2.0"/>
<polygon points="466.8,677.8 477.6,685.7 467.3,691.1" fill="#000" stroke="none"/>
<line x1="671" y1="717" x2="651.5" y2="680" stroke-width="2.0"/>
<polygon points="650.3,677.8 661.1,685.7 650.8,691.1" fill="#000" stroke="none"/>
<ellipse cx="487.6" cy="717" rx="5.5" ry="4.7" fill="#000" stroke="none"/>
<ellipse cx="671" cy="717" rx="5.5" ry="4.7" fill="#000" stroke="none"/>
<line x1="480" y1="703" x2="660" y2="703" stroke-width="2" stroke-dasharray="16 8.6"/>
<text x="518" y="724" font-size="19.5" textLength="25" lengthAdjust="spacingAndGlyphs">RH</text>
<text x="546.5" y="724" font-size="19.5" textLength="57.5" lengthAdjust="spacingAndGlyphs">TURN</text>
<path d="M487.6,717 V741 H534.5 V778" stroke-width="2.3" fill="none"/>
<path d="M524.5,771.5 L534.5,779 L544.5,771.5" stroke-width="1.7" fill="none"/>
<path d="M671,717 V740 H834.5" stroke-width="2.3" fill="none"/>
<path d="M414,679 V760 H527" stroke-width="2.3" fill="none"/>
<path d="M543,760 H826 M843,760 H1054 V607.5" stroke-width="2.3" fill="none"/>
<circle cx="812.5" cy="546" r="4.0" fill="#000" stroke="none"/>
<circle cx="971" cy="546" r="4" fill="#000" stroke="none"/>
<line x1="812.5" y1="546" x2="812.5" y2="567" stroke-width="2.3"/>
<line x1="812.5" y1="567" x2="792.5" y2="602" stroke-width="2.0"/>
<polygon points="791.3,604.2 792.2,590.9 802.2,596.6" fill="#000" stroke="none"/>
<ellipse cx="812.5" cy="567" rx="6.0" ry="5.2" fill="#000" stroke="none"/>
<ellipse cx="790" cy="609" rx="5.5" ry="4.7" fill="#000" stroke="none"/>
<ellipse cx="835" cy="609" rx="6.0" ry="5.2" fill="#000" stroke="none"/>
<path d="M795,612 L799,614.5 M805,613.5 H819 M824,613 L829,611" stroke-width="2" fill="none"/>
<line x1="834.7" y1="609" x2="834.7" y2="778" stroke-width="2.3"/>
<path d="M824.7,771.5 L834.7,779 L844.7,771.5" stroke-width="1.7" fill="none"/>
<circle cx="834.7" cy="740" r="4.0" fill="#000" stroke="none"/>
<line x1="870" y1="609.5" x2="907" y2="609.5" stroke-width="2.6"/>
<polygon points="921.0,609.5 907.0,615.5 907.0,603.5" fill="#000" stroke="none"/>
<line x1="971" y1="513" x2="971" y2="567" stroke-width="2.3"/>
<path d="M961,520.5 L971,513 L981,520.5" stroke-width="1.7" fill="none"/>
<line x1="971" y1="567" x2="947" y2="602" stroke-width="2.0"/>
<polygon points="945.6,604.1 947.6,590.9 957.2,597.4" fill="#000" stroke="none"/>
<ellipse cx="971" cy="567" rx="6.0" ry="5.2" fill="#000" stroke="none"/>
<ellipse cx="944.5" cy="609" rx="5.5" ry="4.7" fill="#000" stroke="none"/>
<ellipse cx="991" cy="608.3" rx="5.5" ry="4.7" fill="#000" stroke="none"/>
<path d="M950,612 L954,614.5 M960,613.5 H974 M979,613 L985,610.5" stroke-width="2" fill="none"/>
<line x1="991" y1="607.7" x2="1104" y2="607.7" stroke-width="2.3"/>
<circle cx="1054" cy="608" r="4.0" fill="#000" stroke="none"/>
<line x1="1129" y1="513" x2="1129" y2="569" stroke-width="2.3"/>
<path d="M1119,520.5 L1129,513 L1139,520.5" stroke-width="1.7" fill="none"/>
<line x1="1129" y1="569" x2="1106" y2="602" stroke-width="2.0"/>
<polygon points="1104.6,604.1 1106.7,590.9 1116.2,597.5" fill="#000" stroke="none"/>
<ellipse cx="1129" cy="569" rx="6.0" ry="5.2" fill="#000" stroke="none"/>
<ellipse cx="1104" cy="609" rx="5.5" ry="4.7" fill="#000" stroke="none"/>
<ellipse cx="1149" cy="609" rx="5.5" ry="4.7" fill="#000" stroke="none"/>
<path d="M1109,612 L1113,614.5 M1119,613.5 H1133 M1138,613 L1144,611" stroke-width="2" fill="none"/>
<path d="M140.0,794.0 L144.8,800.6999999999999 L154.8,800.6999999999999 L159.60000000000002,794.0" stroke-width="5.2" fill="none" stroke-linejoin="round" stroke-linecap="round"/>
<line x1="150.2" y1="799" x2="150.2" y2="1015" stroke-width="11.5"/>
<path d="M147.7,807 L149.2,814 L151.2,814 L152.7,822" stroke-width="2" fill="none" stroke="#fff"/>
<path d="M147.7,843.5 L149.2,850.5 L151.2,850.5 L152.7,858.5" stroke-width="2" fill="none" stroke="#fff"/>
<path d="M147.7,880.0 L149.2,887.0 L151.2,887.0 L152.7,895.0" stroke-width="2" fill="none" stroke="#fff"/>
<path d="M147.7,916.5 L149.2,923.5 L151.2,923.5 L152.7,931.5" stroke-width="2" fill="none" stroke="#fff"/>
<path d="M147.7,953.0 L149.2,960.0 L151.2,960.0 L152.7,968.0" stroke-width="2" fill="none" stroke="#fff"/>
<path d="M147.7,989.5 L149.2,996.5 L151.2,996.5 L152.7,1004.5" stroke-width="2" fill="none" stroke="#fff"/>
<polygon points="137.5,1014 162,1014 149.8,1033" fill="#000" stroke="none"/>
<text x="169" y="814" font-size="18" font-weight="bold" textLength="35" lengthAdjust="spacingAndGlyphs" style="stroke:#000;stroke-width:0.5;">12V</text>
<text x="169" y="839" font-size="18" font-weight="bold" textLength="86" lengthAdjust="spacingAndGlyphs" style="stroke:#000;stroke-width:0.5;">(SWITCH</text>
<text x="169" y="860" font-size="18" font-weight="bold" textLength="88" lengthAdjust="spacingAndGlyphs" style="stroke:#000;stroke-width:0.5;">CLOSED)</text>
<text x="119.5" y="946.3" font-size="28.5" font-weight="bold" class="sf" textLength="13" lengthAdjust="spacingAndGlyphs" style="stroke:#000;stroke-width:0.35;">3</text>
<text x="166" y="946" font-size="27" font-weight="bold" textLength="63" lengthAdjust="spacingAndGlyphs" style="stroke:#000;stroke-width:0.35;">LG/W</text>
<text x="89.5" y="1065" font-size="27" font-weight="bold" textLength="74" lengthAdjust="spacingAndGlyphs" style="stroke:#000;stroke-width:0.35;">TURN/</text>
<text x="170" y="1065" font-size="27" font-weight="bold" textLength="60" lengthAdjust="spacingAndGlyphs" style="stroke:#000;stroke-width:0.35;">STOP</text>
<text x="237" y="1065" font-size="27" font-weight="bold" style="stroke:#000;stroke-width:0.35;">/</text>
<text x="89.5" y="1100" font-size="27" font-weight="bold" textLength="103" lengthAdjust="spacingAndGlyphs" style="stroke:#000;stroke-width:0.35;">HAZARD</text>
<text x="207" y="1100" font-size="27" font-weight="bold" textLength="84" lengthAdjust="spacingAndGlyphs" style="stroke:#000;stroke-width:0.35;">LAMPS</text>
<text x="89.5" y="1132" font-size="27" textLength="121.5" lengthAdjust="spacingAndGlyphs">PAGE 90-1</text>
<path d="M343.0,794.0 L347.8,800.6999999999999 L357.8,800.6999999999999 L362.6,794.0" stroke-width="5.2" fill="none" stroke-linejoin="round" stroke-linecap="round"/>
<line x1="347.6" y1="799" x2="347.6" y2="933" stroke-width="2.4"/>
<line x1="358.2" y1="799" x2="358.2" y2="933" stroke-width="2.4"/>
<path d="M348,805 L352.5,808 L353.5,820 L358,823" stroke-width="3" fill="none"/>
<path d="M348,842 L352.5,845 L353.5,857 L358,860" stroke-width="3" fill="none"/>
<path d="M348,879 L352.5,882 L353.5,894 L358,897" stroke-width="3" fill="none"/>
<line x1="347.6" y1="950" x2="347.6" y2="1008" stroke-width="2.4"/>
<line x1="358.2" y1="950" x2="358.2" y2="1008" stroke-width="2.4"/>
<path d="M348,954 L352.5,957 L353.5,969 L358,972" stroke-width="3" fill="none"/>
<line x1="347.6" y1="1040" x2="347.6" y2="1163" stroke-width="2.4"/>
<line x1="358.2" y1="1040" x2="358.2" y2="1163" stroke-width="2.4"/>
<path d="M348,1046 L352.5,1049 L353.5,1061 L358,1064" stroke-width="3" fill="none"/>
<path d="M348,1083 L352.5,1086 L353.5,1098 L358,1101" stroke-width="3" fill="none"/>
<path d="M348,1120 L352.5,1123 L353.5,1135 L358,1138" stroke-width="3" fill="none"/>
<polygon points="341.5,1162.5 366,1162.5 353.8,1185" fill="#000" stroke="none"/>
<text x="366" y="814" font-size="18" font-weight="bold" textLength="35" lengthAdjust="spacingAndGlyphs" style="stroke:#000;stroke-width:0.5;">12V</text>
<text x="366" y="839" font-size="18" font-weight="bold" textLength="86" lengthAdjust="spacingAndGlyphs" style="stroke:#000;stroke-width:0.5;">(SWITCH</text>
<text x="366" y="860" font-size="18" font-weight="bold" textLength="88" lengthAdjust="spacingAndGlyphs" style="stroke:#000;stroke-width:0.5;">CLOSED)</text>
<text x="322.5" y="910.3" font-size="28.5" font-weight="bold" class="sf" textLength="12.5" lengthAdjust="spacingAndGlyphs" style="stroke:#000;stroke-width:0.35;">9</text>
<text x="369" y="911" font-size="27" font-weight="bold" textLength="40" lengthAdjust="spacingAndGlyphs" style="stroke:#000;stroke-width:0.35;">LG/</text>
<text x="413" y="911" font-size="27" font-weight="bold" textLength="17.5" lengthAdjust="spacingAndGlyphs" style="stroke:#000;stroke-width:0.35;">O</text>
<text x="322.5" y="990.3" font-size="28.5" font-weight="bold" class="sf" textLength="12.5" lengthAdjust="spacingAndGlyphs" style="stroke:#000;stroke-width:0.35;">9</text>
<text x="369" y="989" font-size="27" font-weight="bold" textLength="40" lengthAdjust="spacingAndGlyphs" style="stroke:#000;stroke-width:0.35;">LG/</text>
<text x="413" y="989" font-size="27" font-weight="bold" textLength="17.5" lengthAdjust="spacingAndGlyphs" style="stroke:#000;stroke-width:0.35;">O</text>
<text x="322.5" y="1102.3" font-size="28.5" font-weight="bold" class="sf" textLength="12.5" lengthAdjust="spacingAndGlyphs" style="stroke:#000;stroke-width:0.35;">9</text>
<text x="369" y="1101" font-size="27" font-weight="bold" textLength="40" lengthAdjust="spacingAndGlyphs" style="stroke:#000;stroke-width:0.35;">LG/</text>
<text x="413" y="1101" font-size="27" font-weight="bold" textLength="17.5" lengthAdjust="spacingAndGlyphs" style="stroke:#000;stroke-width:0.35;">O</text>
<circle cx="352" cy="1023" r="7" fill="#000" stroke="none"/>
<text x="279" y="1032.5" font-size="27" font-weight="bold" textLength="58.5" lengthAdjust="spacingAndGlyphs" style="stroke:#000;stroke-width:0.35;">S225</text>
<line x1="279" y1="1037.7" x2="338.5" y2="1037.7" stroke-width="2.4"/>
<path d="M524.4000000000001,794.0 L529.2,800.6999999999999 L539.2,800.6999999999999 L544.0,794.0" stroke-width="5.2" fill="none" stroke-linejoin="round" stroke-linecap="round"/>
<line x1="534" y1="799" x2="534" y2="933" stroke-width="12"/>
<path d="M531.5,807 L533,814 L535,814 L536.5,822" stroke-width="2" fill="none" stroke="#fff"/>
<path d="M531.5,843.5 L533,850.5 L535,850.5 L536.5,858.5" stroke-width="2" fill="none" stroke="#fff"/>
<path d="M531.5,880.0 L533,887.0 L535,887.0 L536.5,895.0" stroke-width="2" fill="none" stroke="#fff"/>
<path d="M531.5,916.5 L533,923.5 L535,923.5 L536.5,931.5" stroke-width="2" fill="none" stroke="#fff"/>
<line x1="534" y1="950" x2="534" y2="1072.5" stroke-width="12"/>
<path d="M531.5,960 L533,967 L535,967 L536.5,975" stroke-width="2" fill="none" stroke="#fff"/>
<path d="M531.5,996.5 L533,1003.5 L535,1003.5 L536.5,1011.5" stroke-width="2" fill="none" stroke="#fff"/>
<path d="M531.5,1033.0 L533,1040.0 L535,1040.0 L536.5,1048.0" stroke-width="2" fill="none" stroke="#fff"/>
<line x1="534" y1="1107.5" x2="534" y2="1163" stroke-width="12"/>
<path d="M531.5,1113.5 L533,1120.5 L535,1120.5 L536.5,1128.5" stroke-width="2" fill="none" stroke="#fff"/>
<polygon points="522.5,1162.5 545.5,1162.5 534,1185" fill="#000" stroke="none"/>
<text x="547" y="814" font-size="18" font-weight="bold" textLength="35" lengthAdjust="spacingAndGlyphs" style="stroke:#000;stroke-width:0.5;">12V</text>
<text x="547" y="839" font-size="18" font-weight="bold" textLength="86" lengthAdjust="spacingAndGlyphs" style="stroke:#000;stroke-width:0.5;">(SWITCH</text>
<text x="547" y="860" font-size="18" font-weight="bold" textLength="88" lengthAdjust="spacingAndGlyphs" style="stroke:#000;stroke-width:0.5;">CLOSED)</text>
<text x="501" y="912.3" font-size="28.5" font-weight="bold" class="sf" textLength="13" lengthAdjust="spacingAndGlyphs" style="stroke:#000;stroke-width:0.35;">5</text>
<text x="550" y="911" font-size="27" font-weight="bold" textLength="59" lengthAdjust="spacingAndGlyphs" style="stroke:#000;stroke-width:0.35;">O/LB</text>
<text x="501" y="990.3" font-size="28.5" font-weight="bold" class="sf" textLength="13" lengthAdjust="spacingAndGlyphs" style="stroke:#000;stroke-width:0.35;">5</text>
<text x="550" y="989" font-size="27" font-weight="bold" textLength="59" lengthAdjust="spacingAndGlyphs" style="stroke:#000;stroke-width:0.35;">O/LB</text>
<text x="501" y="1148.8" font-size="28.5" font-weight="bold" class="sf" textLength="13" lengthAdjust="spacingAndGlyphs" style="stroke:#000;stroke-width:0.35;">5</text>
<text x="550" y="1147.5" font-size="27" font-weight="bold" textLength="59" lengthAdjust="spacingAndGlyphs" style="stroke:#000;stroke-width:0.35;">O/LB</text>
<circle cx="533" cy="1089" r="7" fill="#000" stroke="none"/>
<text x="459" y="1101" font-size="27" font-weight="bold" textLength="60" lengthAdjust="spacingAndGlyphs" style="stroke:#000;stroke-width:0.35;">S219</text>
<line x1="459" y1="1106.8" x2="520" y2="1106.8" stroke-width="2.4"/>
<path d="M342,940 Q343,932.5 353,932.5 Q363,932.5 364,940" stroke-width="4.5" fill="none"/>
<path d="M345,941 Q353,930 361,941 Z" fill="#fff" stroke="none"/>
<path d="M342,940 Q343,932.5 353,932.5 Q363,932.5 364,940" stroke-width="4.5" fill="none"/>
<path d="M342,948.9 L346.5,948.9 L353,943.0 L359.5,948.9 L364,948.9" stroke-width="5.2" fill="none" stroke-linejoin="round"/>
<path d="M353,940.0 V945.0" stroke-width="7.2" fill="none"/>
<path d="M523,940 Q524,932.5 534,932.5 Q544,932.5 545,940" stroke-width="4.5" fill="none"/>
<path d="M526,941 Q534,930 542,941 Z" fill="#fff" stroke="none"/>
<path d="M523,940 Q524,932.5 534,932.5 Q544,932.5 545,940" stroke-width="4.5" fill="none"/>
<path d="M523,948.9 L527.5,948.9 L534,943.0 L540.5,948.9 L545,948.9" stroke-width="5.2" fill="none" stroke-linejoin="round"/>
<path d="M534,940.0 V945.0" stroke-width="7.2" fill="none"/>
<line x1="366" y1="937.5" x2="522" y2="937.5" stroke-width="2" stroke-dasharray="16 8.6"/>
<line x1="366" y1="950.5" x2="522" y2="950.5" stroke-width="2" stroke-dasharray="16 8.6"/>
<text x="557" y="950" font-size="27" font-weight="bold" textLength="62.5" lengthAdjust="spacingAndGlyphs" style="stroke:#000;stroke-width:0.35;">C205</text>
<line x1="557" y1="956" x2="620.5" y2="956" stroke-width="2.4"/>
<path d="M313,1186.5 Q313.5,1193.5 322,1193.5 H436.5 L442.5,1200.5 L448.5,1193.5 H572 Q580.5,1193.5 581,1186.5" stroke-width="3.5" fill="none" stroke-linejoin="miter"/>
<text x="277" y="1234.5" font-size="27" font-weight="bold" textLength="255.5" lengthAdjust="spacingAndGlyphs" style="stroke:#000;stroke-width:0.35;">TURN/STOP/HAZARD</text>
<text x="551" y="1234.5" font-size="27" font-weight="bold" textLength="85" lengthAdjust="spacingAndGlyphs" style="stroke:#000;stroke-width:0.35;">LAMPS</text>
<text x="278" y="1268.75" font-size="27" textLength="203" lengthAdjust="spacingAndGlyphs">PAGES 90-3, 90-4</text>
<path d="M823.2,794.0 L828,800.6999999999999 L838,800.6999999999999 L842.8,794.0" stroke-width="5.2" fill="none" stroke-linejoin="round" stroke-linecap="round"/>
<line x1="828.2" y1="799" x2="828.2" y2="856" stroke-width="2.4"/>
<line x1="838.2" y1="799" x2="838.2" y2="856" stroke-width="2.4"/>
<line x1="833.2" y1="803" x2="833.2" y2="854" stroke-width="2" stroke-dasharray="9 5"/>
<polygon points="821,855 845.5,855 833,876" fill="#000" stroke="none"/>
<text x="850" y="811" font-size="27" font-weight="bold" textLength="60" lengthAdjust="spacingAndGlyphs" style="stroke:#000;stroke-width:0.35;">C231</text>
<line x1="850" y1="817" x2="913" y2="817" stroke-width="2.4"/>
<text x="919" y="802" font-size="18" font-weight="bold" textLength="35" lengthAdjust="spacingAndGlyphs" style="stroke:#000;stroke-width:0.5;">12V</text>
<text x="919" y="826" font-size="18" font-weight="bold" textLength="86" lengthAdjust="spacingAndGlyphs" style="stroke:#000;stroke-width:0.5;">(SWITCH</text>
<text x="1024.5" y="826" font-size="18" font-weight="bold" textLength="86" lengthAdjust="spacingAndGlyphs" style="stroke:#000;stroke-width:0.5;">CLOSED)</text>
<text x="851" y="845.5" font-size="27" font-weight="bold" textLength="63" lengthAdjust="spacingAndGlyphs" style="stroke:#000;stroke-width:0.35;">W/LB</text>
<text x="801" y="846.8" font-size="28.5" font-weight="bold" class="sf" textLength="13" lengthAdjust="spacingAndGlyphs" style="stroke:#000;stroke-width:0.35;">2</text>
<text x="732.5" y="899" font-size="27" font-weight="bold" textLength="74" lengthAdjust="spacingAndGlyphs" style="stroke:#000;stroke-width:0.35;">TURN/</text>
<text x="813" y="899" font-size="27" font-weight="bold" textLength="60" lengthAdjust="spacingAndGlyphs" style="stroke:#000;stroke-width:0.35;">STOP</text>
<text x="880" y="899" font-size="27" font-weight="bold" style="stroke:#000;stroke-width:0.35;">/</text>
<text x="732.5" y="934" font-size="27" font-weight="bold" textLength="101" lengthAdjust="spacingAndGlyphs" style="stroke:#000;stroke-width:0.35;">HAZARD</text>
<text x="840" y="934" font-size="27" font-weight="bold" textLength="84" lengthAdjust="spacingAndGlyphs" style="stroke:#000;stroke-width:0.35;">LAMPS</text>
<text x="732.5" y="965" font-size="27" textLength="121.5" lengthAdjust="spacingAndGlyphs">PAGE 90-1</text>
<text x="865" y="962.5" font-size="18" font-weight="bold" textLength="35" lengthAdjust="spacingAndGlyphs" style="stroke:#000;stroke-width:0.5;">12V</text>
<text x="865" y="987.5" font-size="18" font-weight="bold" textLength="86" lengthAdjust="spacingAndGlyphs" style="stroke:#000;stroke-width:0.5;">(SWITCH</text>
<text x="867" y="1009" font-size="18" font-weight="bold" textLength="87" lengthAdjust="spacingAndGlyphs" style="stroke:#000;stroke-width:0.5;">CLOSED)</text>
<line x1="369" y1="1018.8" x2="516" y2="1018.8" stroke-width="2.4"/>
<line x1="369" y1="1029.2" x2="516" y2="1029.2" stroke-width="2.4"/>
<path d="M381,1029.2 L383,1024.5 L396,1023.5 L399,1018.8" stroke-width="3.4" fill="none"/>
<path d="M418.5,1029.2 L420.5,1024.5 L433.5,1023.5 L436.5,1018.8" stroke-width="3.4" fill="none"/>
<path d="M456.0,1029.2 L458.0,1024.5 L471.0,1023.5 L474.0,1018.8" stroke-width="3.4" fill="none"/>
<path d="M493.5,1029.2 L495.5,1024.5 L508.5,1023.5 L511.5,1018.8" stroke-width="3.4" fill="none"/>
<line x1="552.5" y1="1018.8" x2="966" y2="1018.8" stroke-width="2.4"/>
<line x1="552.5" y1="1029.2" x2="966" y2="1029.2" stroke-width="2.4"/>
<path d="M584.5,1029.2 L586.5,1024.5 L599.5,1023.5 L602.5,1018.8" stroke-width="3.4" fill="none"/>
<path d="M627.0,1029.2 L629.0,1024.5 L642.0,1023.5 L645.0,1018.8" stroke-width="3.4" fill="none"/>
<path d="M669.5,1029.2 L671.5,1024.5 L684.5,1023.5 L687.5,1018.8" stroke-width="3.4" fill="none"/>
<path d="M712.0,1029.2 L714.0,1024.5 L727.0,1023.5 L730.0,1018.8" stroke-width="3.4" fill="none"/>
<path d="M754.5,1029.2 L756.5,1024.5 L769.5,1023.5 L772.5,1018.8" stroke-width="3.4" fill="none"/>
<path d="M797.0,1029.2 L799.0,1024.5 L812.0,1023.5 L815.0,1018.8" stroke-width="3.4" fill="none"/>
<path d="M839.5,1029.2 L841.5,1024.5 L854.5,1023.5 L857.5,1018.8" stroke-width="3.4" fill="none"/>
<path d="M882.0,1029.2 L884.0,1024.5 L897.0,1023.5 L900.0,1018.8" stroke-width="3.4" fill="none"/>
<path d="M924.5,1029.2 L926.5,1024.5 L939.5,1023.5 L942.5,1018.8" stroke-width="3.4" fill="none"/>
<text x="457.5" y="1010.3" font-size="28.5" font-weight="bold" class="sf" textLength="12.5" lengthAdjust="spacingAndGlyphs" style="stroke:#000;stroke-width:0.35;">9</text>
<text x="440" y="1052.5" font-size="27" font-weight="bold" textLength="40" lengthAdjust="spacingAndGlyphs" style="stroke:#000;stroke-width:0.35;">LG/</text>
<text x="484" y="1052.5" font-size="27" font-weight="bold" textLength="17.5" lengthAdjust="spacingAndGlyphs" style="stroke:#000;stroke-width:0.35;">O</text>
<text x="835" y="1010.8" font-size="28.5" font-weight="bold" class="sf" textLength="13" lengthAdjust="spacingAndGlyphs" style="stroke:#000;stroke-width:0.35;">9</text>
<text x="806" y="1051" font-size="27" font-weight="bold" textLength="40" lengthAdjust="spacingAndGlyphs" style="stroke:#000;stroke-width:0.35;">LG/</text>
<text x="850" y="1051" font-size="27" font-weight="bold" textLength="17.5" lengthAdjust="spacingAndGlyphs" style="stroke:#000;stroke-width:0.35;">O</text>
<line x1="551" y1="1091" x2="966" y2="1091" stroke-width="9.5"/>
<path d="M575,1093 L582,1093 L585,1090 L593,1089.5" stroke-width="2" fill="none" stroke="#fff"/>
<path d="M617.5,1093 L624.5,1093 L627.5,1090 L635.5,1089.5" stroke-width="2" fill="none" stroke="#fff"/>
<path d="M660.0,1093 L667.0,1093 L670.0,1090 L678.0,1089.5" stroke-width="2" fill="none" stroke="#fff"/>
<path d="M702.5,1093 L709.5,1093 L712.5,1090 L720.5,1089.5" stroke-width="2" fill="none" stroke="#fff"/>
<path d="M745.0,1093 L752.0,1093 L755.0,1090 L763.0,1089.5" stroke-width="2" fill="none" stroke="#fff"/>
<path d="M787.5,1093 L794.5,1093 L797.5,1090 L805.5,1089.5" stroke-width="2" fill="none" stroke="#fff"/>
<path d="M830.0,1093 L837.0,1093 L840.0,1090 L848.0,1089.5" stroke-width="2" fill="none" stroke="#fff"/>
<path d="M872.5,1093 L879.5,1093 L882.5,1090 L890.5,1089.5" stroke-width="2" fill="none" stroke="#fff"/>
<path d="M915.0,1093 L922.0,1093 L925.0,1090 L933.0,1089.5" stroke-width="2" fill="none" stroke="#fff"/>
<text x="579" y="1080.3" font-size="28.5" font-weight="bold" class="sf" textLength="13" lengthAdjust="spacingAndGlyphs" style="stroke:#000;stroke-width:0.35;">5</text>
<text x="850" y="1080.3" font-size="28.5" font-weight="bold" class="sf" textLength="13" lengthAdjust="spacingAndGlyphs" style="stroke:#000;stroke-width:0.35;">5</text>
<text x="557" y="1119" font-size="27" font-weight="bold" textLength="59" lengthAdjust="spacingAndGlyphs" style="stroke:#000;stroke-width:0.35;">O/LB</text>
<text x="834" y="1119" font-size="27" font-weight="bold" textLength="59" lengthAdjust="spacingAndGlyphs" style="stroke:#000;stroke-width:0.35;">O/LB</text>
<text x="619" y="999.5" font-size="27" font-weight="bold" textLength="61" lengthAdjust="spacingAndGlyphs" style="stroke:#000;stroke-width:0.35;">C205</text>
<line x1="619" y1="1005" x2="682" y2="1005" stroke-width="2.4"/>
<text x="709.5" y="999.5" font-size="27" font-weight="bold" textLength="60.5" lengthAdjust="spacingAndGlyphs" style="stroke:#000;stroke-width:0.35;">C202</text>
<line x1="709" y1="1005" x2="772" y2="1005" stroke-width="2.4"/>
<text x="919" y="1134" font-size="18" font-weight="bold" textLength="35" lengthAdjust="spacingAndGlyphs" style="stroke:#000;stroke-width:0.5;">12V</text>
<text x="919" y="1159" font-size="18" font-weight="bold" textLength="86" lengthAdjust="spacingAndGlyphs" style="stroke:#000;stroke-width:0.5;">(SWITCH</text>
<text x="1024.5" y="1159" font-size="18" font-weight="bold" textLength="86" lengthAdjust="spacingAndGlyphs" style="stroke:#000;stroke-width:0.5;">CLOSED)</text>
<rect x="648.7" y="1016.3" width="11.0" height="15" fill="#fff" stroke="none"/>
<path d="M642.5,1012.3 Q652.3000000000002,1023.8 642.5,1035.3" stroke-width="5.6" fill="none" stroke-linecap="butt"/>
<path d="M655.0,1012.3 Q664.0,1023.8 655.0,1035.3" stroke-width="5.4" fill="none" stroke-linecap="butt"/>
<rect x="648.7" y="1082.3" width="11.0" height="14" fill="#fff" stroke="none"/>
<path d="M640.7,1077.8 L643.2,1077.8 Q657.2,1089.3 643.2,1100.8 L640.7,1100.8 Z" stroke-width="0" fill="#000"/>
<path d="M655.0,1077.8 Q664.0,1089.3 655.0,1100.8" stroke-width="5.4" fill="none" stroke-linecap="butt"/>
<line x1="644.2" y1="1034.5" x2="644.2" y2="1052" stroke-width="2.2"/>
<line x1="644.2" y1="1060" x2="644.2" y2="1077.5" stroke-width="2.2"/>
<line x1="656.2" y1="1034.5" x2="656.2" y2="1052" stroke-width="2.2"/>
<line x1="656.2" y1="1060" x2="656.2" y2="1077.5" stroke-width="2.2"/>
<rect x="728.5" y="1016.3" width="10.0" height="15" fill="#fff" stroke="none"/>
<path d="M733.2,1012.3 Q724.2,1023.8 733.2,1035.3" stroke-width="5.4" fill="none" stroke-linecap="butt"/>
<path d="M743.8000000000001,1012.3 Q735.7999999999998,1023.8 743.8000000000001,1035.3" stroke-width="5.6" fill="none" stroke-linecap="butt"/>
<rect x="728.5" y="1082.3" width="10.0" height="14" fill="#fff" stroke="none"/>
<path d="M733.2,1077.8 Q724.2,1089.3 733.2,1100.8" stroke-width="5.4" fill="none" stroke-linecap="butt"/>
<path d="M745.6,1077.8 L743.1,1077.8 Q730.9,1089.3 743.1,1100.8 L745.6,1100.8 Z" stroke-width="0" fill="#000"/>
<line x1="732.3" y1="1034.5" x2="732.3" y2="1052" stroke-width="2.2"/>
<line x1="732.3" y1="1060" x2="732.3" y2="1077.5" stroke-width="2.2"/>
<line x1="744.4" y1="1034.5" x2="744.4" y2="1052" stroke-width="2.2"/>
<line x1="744.4" y1="1060" x2="744.4" y2="1077.5" stroke-width="2.2"/>
<text x="965" y="897.5" font-size="27" font-weight="bold" textLength="94" lengthAdjust="spacingAndGlyphs" style="stroke:#000;stroke-width:0.35;">ENGINE</text>
<text x="1084" y="897.5" font-size="27" font-weight="bold" textLength="190" lengthAdjust="spacingAndGlyphs" style="stroke:#000;stroke-width:0.35;">COMPARTMENT</text>
<text x="965" y="931" font-size="27" font-weight="bold" textLength="60" lengthAdjust="spacingAndGlyphs" style="stroke:#000;stroke-width:0.35;">FUSE</text>
<text x="1044" y="931" font-size="27" font-weight="bold" textLength="52" lengthAdjust="spacingAndGlyphs" style="stroke:#000;stroke-width:0.35;">BOX</text>
<text x="965" y="963" font-size="27" textLength="139" lengthAdjust="spacingAndGlyphs">PAGE 13-13</text>
<rect x="968.2" y="1010" width="98.5" height="95" fill="#fff" stroke="none"/>
<path d="M965.6,991.5 V983.3 Q965.6,980.8 968.1,980.8 H977" stroke-width="4.8" fill="none"/>
<line x1="985.9" y1="980.8" x2="1005.7" y2="980.8" stroke-width="4.8"/>
<line x1="1013.9" y1="980.8" x2="1032.2" y2="980.8" stroke-width="4.8"/>
<line x1="1040.6" y1="980.8" x2="1059.1" y2="980.8" stroke-width="4.8"/>
<line x1="1069.3" y1="978.4" x2="1069.3" y2="992.8" stroke-width="4.8"/>
<line x1="965.6" y1="999" x2="965.6" y2="1019.8" stroke-width="4.8"/>
<line x1="965.6" y1="1027.4" x2="965.6" y2="1051" stroke-width="4.8"/>
<line x1="965.6" y1="1056.5" x2="965.6" y2="1080.4" stroke-width="4.8"/>
<line x1="965.6" y1="1085.5" x2="965.6" y2="1109.2" stroke-width="4.8"/>
<line x1="1069.3" y1="999" x2="1069.3" y2="1020.2" stroke-width="4.8"/>
<line x1="1069.3" y1="1029.4" x2="1069.3" y2="1050.3" stroke-width="4.8"/>
<line x1="1069.3" y1="1057.2" x2="1069.3" y2="1080.4" stroke-width="4.8"/>
<line x1="1069.3" y1="1086" x2="1069.3" y2="1108.5" stroke-width="4.8"/>
<path d="M965.6,1117.4 V1124.8 Q965.6,1127.3 968.1,1127.3 H971" stroke-width="4.8" fill="none"/>
<line x1="978.3" y1="1127.3" x2="996.1" y2="1127.3" stroke-width="4.8"/>
<line x1="1005.7" y1="1127.3" x2="1024.2" y2="1127.3" stroke-width="4.8"/>
<line x1="1033" y1="1127.3" x2="1051.5" y2="1127.3" stroke-width="4.8"/>
<path d="M1060.4,1127.3 H1069.3 V1116.7" stroke-width="4.8" fill="none" stroke-linejoin="miter"/>
<text x="972.8" y="1012" font-size="18.8" textLength="13" lengthAdjust="spacingAndGlyphs">G</text>
<text x="1033" y="1012" font-size="18.8" textLength="31.6" lengthAdjust="spacingAndGlyphs">10A</text>
<text x="973.5" y="1078.4" font-size="18.8" textLength="9" lengthAdjust="spacingAndGlyphs">F</text>
<text x="1033" y="1078.4" font-size="18.8" textLength="31.6" lengthAdjust="spacingAndGlyphs">10A</text>
<path d="M966,1023.6 H1003 L1007,1018.9 H1014.6 L1022,1028.4 H1033 L1034.6,1023.6 H1069" stroke-width="2.2" fill="none" stroke-linejoin="round"/>
<polygon points="994.0,1023.6 987.0,1028.4 987.0,1018.8" fill="#000" stroke="none"/>
<polygon points="1050.8,1023.6 1043.8,1028.4 1043.8,1018.8" fill="#000" stroke="none"/>
<path d="M966,1092 H1003 L1007,1084.6 H1014.6 L1024,1096.9 H1029 L1034.6,1092 H1069" stroke-width="2.2" fill="none" stroke-linejoin="round"/>
<path d="M983.6,1092 L988.6,1088.4 L993.6,1092 L988.6,1095.6 Z" stroke-width="0" fill="#000"/>
<path d="M1041,1092 L1046,1088.4 L1051,1092 L1046,1095.6 Z" stroke-width="0" fill="#000"/>
<path d="M1069.5,1018.8 H1821 V952" stroke-width="2.4" fill="none"/>
<path d="M1069.5,1029.2 H1831 V952" stroke-width="2.4" fill="none"/>
<line x1="1069.5" y1="1090.8" x2="1826" y2="1090.8" stroke-width="9.9"/>
<line x1="1826" y1="1083.7" x2="1826" y2="1135" stroke-width="12.1"/>
<rect x="1184.3" y="1016.3" width="9.799999999999955" height="15" fill="#fff" stroke="none"/>
<path d="M1179.5,1012.3 Q1186.5,1023.8 1179.5,1035.3" stroke-width="5.6" fill="none" stroke-linecap="butt"/>
<path d="M1188.8,1012.3 Q1198.9999999999998,1023.8 1188.8,1035.3" stroke-width="5.4" fill="none" stroke-linecap="butt"/>
<rect x="1184.3" y="1082.3" width="9.799999999999955" height="14" fill="#fff" stroke="none"/>
<path d="M1177.7,1077.8 L1180.2,1077.8 Q1191.3999999999999,1089.3 1180.2,1100.8 L1177.7,1100.8 Z" stroke-width="0" fill="#000"/>
<path d="M1188.8,1077.8 Q1198.9999999999998,1089.3 1188.8,1100.8" stroke-width="5.4" fill="none" stroke-linecap="butt"/>
<line x1="1180.4" y1="1034.5" x2="1180.4" y2="1052" stroke-width="2.2"/>
<line x1="1180.4" y1="1060" x2="1180.4" y2="1077.5" stroke-width="2.2"/>
<line x1="1190.2" y1="1034.5" x2="1190.2" y2="1052" stroke-width="2.2"/>
<line x1="1190.2" y1="1060" x2="1190.2" y2="1077.5" stroke-width="2.2"/>
<rect x="1365.0" y="1016.3" width="11.200000000000045" height="15" fill="#fff" stroke="none"/>
<path d="M1369.5,1012.3 Q1360.9,1023.8 1369.5,1035.3" stroke-width="5.4" fill="none" stroke-linecap="butt"/>
<path d="M1382.2,1012.3 Q1372.8,1023.8 1382.2,1035.3" stroke-width="5.6" fill="none" stroke-linecap="butt"/>
<rect x="1365.0" y="1082.3" width="11.200000000000045" height="14" fill="#fff" stroke="none"/>
<path d="M1369.5,1077.8 Q1360.9,1089.3 1369.5,1100.8" stroke-width="5.4" fill="none" stroke-linecap="butt"/>
<path d="M1384,1077.8 L1381.5,1077.8 Q1367.9,1089.3 1381.5,1100.8 L1384,1100.8 Z" stroke-width="0" fill="#000"/>
<line x1="1371" y1="1034.5" x2="1371" y2="1052" stroke-width="2.2"/>
<line x1="1371" y1="1060" x2="1371" y2="1077.5" stroke-width="2.2"/>
<line x1="1383.5" y1="1034.5" x2="1383.5" y2="1052" stroke-width="2.2"/>
<line x1="1383.5" y1="1060" x2="1383.5" y2="1077.5" stroke-width="2.2"/>
<rect x="1501.3" y="1016.3" width="11.200000000000045" height="15" fill="#fff" stroke="none"/>
<path d="M1494.6,1012.3 Q1505.4,1023.8 1494.6,1035.3" stroke-width="5.6" fill="none" stroke-linecap="butt"/>
<path d="M1506.6,1012.3 Q1518.0,1023.8 1506.6,1035.3" stroke-width="5.4" fill="none" stroke-linecap="butt"/>
<rect x="1501.3" y="1082.3" width="11.200000000000045" height="14" fill="#fff" stroke="none"/>
<path d="M1492.8,1077.8 L1495.3,1077.8 Q1510.3,1089.3 1495.3,1100.8 L1492.8,1100.8 Z" stroke-width="0" fill="#000"/>
<path d="M1506.6,1077.8 Q1518.0,1089.3 1506.6,1100.8" stroke-width="5.4" fill="none" stroke-linecap="butt"/>
<line x1="1496.2" y1="1034.5" x2="1496.2" y2="1052" stroke-width="2.2"/>
<line x1="1496.2" y1="1060" x2="1496.2" y2="1077.5" stroke-width="2.2"/>
<line x1="1508.2" y1="1034.5" x2="1508.2" y2="1052" stroke-width="2.2"/>
<line x1="1508.2" y1="1060" x2="1508.2" y2="1077.5" stroke-width="2.2"/>
<rect x="1671.0" y="1016.3" width="10.200000000000045" height="15" fill="#fff" stroke="none"/>
<path d="M1665.1,1012.3 Q1674.3000000000002,1023.8 1665.1,1035.3" stroke-width="5.6" fill="none" stroke-linecap="butt"/>
<path d="M1675.8,1012.3 Q1686.2,1023.8 1675.8,1035.3" stroke-width="5.4" fill="none" stroke-linecap="butt"/>
<rect x="1671.0" y="1082.3" width="10.200000000000045" height="14" fill="#fff" stroke="none"/>
<path d="M1663.3,1077.8 L1665.8,1077.8 Q1679.2,1089.3 1665.8,1100.8 L1663.3,1100.8 Z" stroke-width="0" fill="#000"/>
<path d="M1675.8,1077.8 Q1686.2,1089.3 1675.8,1100.8" stroke-width="5.4" fill="none" stroke-linecap="butt"/>
<line x1="1667.5" y1="1034.5" x2="1667.5" y2="1052" stroke-width="2.2"/>
<line x1="1667.5" y1="1060" x2="1667.5" y2="1077.5" stroke-width="2.2"/>
<line x1="1676.7" y1="1034.5" x2="1676.7" y2="1052" stroke-width="2.2"/>
<line x1="1676.7" y1="1060" x2="1676.7" y2="1077.5" stroke-width="2.2"/>
<text x="1091" y="1012.8" font-size="28.5" font-weight="bold" class="sf" textLength="28" lengthAdjust="spacingAndGlyphs" style="stroke:#000;stroke-width:0.35;">52</text>
<text x="1262.5" y="1012.8" font-size="28.5" font-weight="bold" class="sf" textLength="28" lengthAdjust="spacingAndGlyphs" style="stroke:#000;stroke-width:0.35;">52</text>
<text x="1411" y="1012.8" font-size="28.5" font-weight="bold" class="sf" textLength="28" lengthAdjust="spacingAndGlyphs" style="stroke:#000;stroke-width:0.35;">52</text>
<text x="1576" y="1012.8" font-size="28.5" font-weight="bold" class="sf" textLength="28" lengthAdjust="spacingAndGlyphs" style="stroke:#000;stroke-width:0.35;">52</text>
<text x="1719" y="1012.8" font-size="28.5" font-weight="bold" class="sf" textLength="28" lengthAdjust="spacingAndGlyphs" style="stroke:#000;stroke-width:0.35;">52</text>
<text x="1089" y="1050.5" font-size="27" font-weight="bold" textLength="15.5" lengthAdjust="spacingAndGlyphs" style="stroke:#000;stroke-width:0.35;">Y</text>
<text x="1267.5" y="1050.5" font-size="27" font-weight="bold" textLength="15.5" lengthAdjust="spacingAndGlyphs" style="stroke:#000;stroke-width:0.35;">Y</text>
<text x="1416" y="1050.5" font-size="27" font-weight="bold" textLength="15.5" lengthAdjust="spacingAndGlyphs" style="stroke:#000;stroke-width:0.35;">Y</text>
<text x="1580" y="1050.5" font-size="27" font-weight="bold" textLength="15.5" lengthAdjust="spacingAndGlyphs" style="stroke:#000;stroke-width:0.35;">Y</text>
<text x="1724.5" y="1050.5" font-size="27" font-weight="bold" textLength="15.5" lengthAdjust="spacingAndGlyphs" style="stroke:#000;stroke-width:0.35;">Y</text>
<text x="1091" y="1081.3" font-size="28.5" font-weight="bold" class="sf" textLength="28" lengthAdjust="spacingAndGlyphs" style="stroke:#000;stroke-width:0.35;">64</text>
<text x="1296" y="1081.3" font-size="28.5" font-weight="bold" class="sf" textLength="28" lengthAdjust="spacingAndGlyphs" style="stroke:#000;stroke-width:0.35;">64</text>
<text x="1396" y="1081.3" font-size="28.5" font-weight="bold" class="sf" textLength="28" lengthAdjust="spacingAndGlyphs" style="stroke:#000;stroke-width:0.35;">64</text>
<text x="1607" y="1081.3" font-size="28.5" font-weight="bold" class="sf" textLength="28" lengthAdjust="spacingAndGlyphs" style="stroke:#000;stroke-width:0.35;">64</text>
<text x="1750.7" y="1081.3" font-size="28.5" font-weight="bold" class="sf" textLength="28" lengthAdjust="spacingAndGlyphs" style="stroke:#000;stroke-width:0.35;">64</text>
<text x="1091" y="1119" font-size="27" font-weight="bold" textLength="37" lengthAdjust="spacingAndGlyphs" style="stroke:#000;stroke-width:0.35;">DG</text>
<text x="1289" y="1119" font-size="27" font-weight="bold" textLength="37" lengthAdjust="spacingAndGlyphs" style="stroke:#000;stroke-width:0.35;">DG</text>
<text x="1394" y="1119" font-size="27" font-weight="bold" textLength="37" lengthAdjust="spacingAndGlyphs" style="stroke:#000;stroke-width:0.35;">DG</text>
<text x="1602" y="1117.5" font-size="27" font-weight="bold" textLength="37" lengthAdjust="spacingAndGlyphs" style="stroke:#000;stroke-width:0.35;">DG</text>
<text x="1759" y="1119" font-size="27" font-weight="bold" textLength="37" lengthAdjust="spacingAndGlyphs" style="stroke:#000;stroke-width:0.35;">DG</text>
<text x="1157.5" y="999" font-size="27" font-weight="bold" textLength="61.5" lengthAdjust="spacingAndGlyphs" style="stroke:#000;stroke-width:0.35;">C202</text>
<line x1="1157" y1="1004.5" x2="1220.5" y2="1004.5" stroke-width="2.4"/>
<text x="1336" y="999" font-size="27" font-weight="bold" textLength="61.5" lengthAdjust="spacingAndGlyphs" style="stroke:#000;stroke-width:0.35;">C205</text>
<line x1="1336" y1="1004.5" x2="1399" y2="1004.5" stroke-width="2.4"/>
<text x="1473" y="1000.5" font-size="27" font-weight="bold" textLength="62" lengthAdjust="spacingAndGlyphs" style="stroke:#000;stroke-width:0.35;">C407</text>
<line x1="1473" y1="1005" x2="1536" y2="1005" stroke-width="2.4"/>
<text x="1641.5" y="1000.5" font-size="27" font-weight="bold" textLength="62.5" lengthAdjust="spacingAndGlyphs" style="stroke:#000;stroke-width:0.35;">C417</text>
<line x1="1641" y1="1005" x2="1705" y2="1005" stroke-width="2.4"/>
<path d="M1745,809 H1904.5 V919 L1825,951 L1745,919 Z" stroke-width="2.2" fill="none" stroke-linejoin="miter"/>
<text x="1805" y="831" font-size="27" font-weight="bold" textLength="15" lengthAdjust="spacingAndGlyphs" style="stroke:#000;stroke-width:0.35;">T</text>
<text x="1825" y="831" font-size="27" font-weight="bold" textLength="18" lengthAdjust="spacingAndGlyphs" style="stroke:#000;stroke-width:0.35;">O</text>
<text x="1769" y="865.5" font-size="27" font-weight="bold" textLength="107" lengthAdjust="spacingAndGlyphs" style="stroke:#000;stroke-width:0.35;">TRAILER</text>
<text x="1753" y="897" font-size="27" font-weight="bold" textLength="51" lengthAdjust="spacingAndGlyphs" style="stroke:#000;stroke-width:0.35;">LEFT</text>
<text x="1830" y="897" font-size="27" font-weight="bold" textLength="64" lengthAdjust="spacingAndGlyphs" style="stroke:#000;stroke-width:0.35;">TURN</text>
<text x="1780.5" y="931" font-size="27" font-weight="bold" textLength="88.5" lengthAdjust="spacingAndGlyphs" style="stroke:#000;stroke-width:0.35;">LAMPS</text>
<path d="M1745,1280.5 V1167.7 L1825.7,1134 L1904.7,1167.7 V1280.5 Z" stroke-width="2.2" fill="none" stroke-linejoin="miter"/>
<text x="1808.4" y="1169.6" font-size="27" font-weight="bold" textLength="15" lengthAdjust="spacingAndGlyphs" style="stroke:#000;stroke-width:0.35;">T</text>
<text x="1827" y="1169.6" font-size="27" font-weight="bold" textLength="18" lengthAdjust="spacingAndGlyphs" style="stroke:#000;stroke-width:0.35;">O</text>
<text x="1771" y="1205.4" font-size="27" font-weight="bold" textLength="109" lengthAdjust="spacingAndGlyphs" style="stroke:#000;stroke-width:0.35;">TRAILER</text>
<text x="1748.7" y="1237" font-size="27" font-weight="bold" textLength="72" lengthAdjust="spacingAndGlyphs" style="stroke:#000;stroke-width:0.35;">RIGHT</text>
<text x="1841" y="1237" font-size="27" font-weight="bold" textLength="64" lengthAdjust="spacingAndGlyphs" style="stroke:#000;stroke-width:0.35;">TURN</text>
<text x="1782" y="1270" font-size="27" font-weight="bold" textLength="89.7" lengthAdjust="spacingAndGlyphs" style="stroke:#000;stroke-width:0.35;">LAMPS</text>
<text x="1837" y="970" font-size="18" font-weight="bold" textLength="35" lengthAdjust="spacingAndGlyphs" style="stroke:#000;stroke-width:0.5;">12V</text>
<text x="1837" y="995" font-size="18" font-weight="bold" textLength="86" lengthAdjust="spacingAndGlyphs" style="stroke:#000;stroke-width:0.5;">(SWITCH</text>
<text x="1837" y="1016" font-size="18" font-weight="bold" textLength="88" lengthAdjust="spacingAndGlyphs" style="stroke:#000;stroke-width:0.5;">CLOSED)</text>
<text x="1837" y="1090.7" font-size="18" font-weight="bold" textLength="35" lengthAdjust="spacingAndGlyphs" style="stroke:#000;stroke-width:0.5;">12V</text>
<text x="1837" y="1114.6" font-size="18" font-weight="bold" textLength="86" lengthAdjust="spacingAndGlyphs" style="stroke:#000;stroke-width:0.5;">(SWITCH</text>
<text x="1837" y="1136.6" font-size="18" font-weight="bold" textLength="88" lengthAdjust="spacingAndGlyphs" style="stroke:#000;stroke-width:0.5;">CLOSED)</text>
</g></svg></body></html>
